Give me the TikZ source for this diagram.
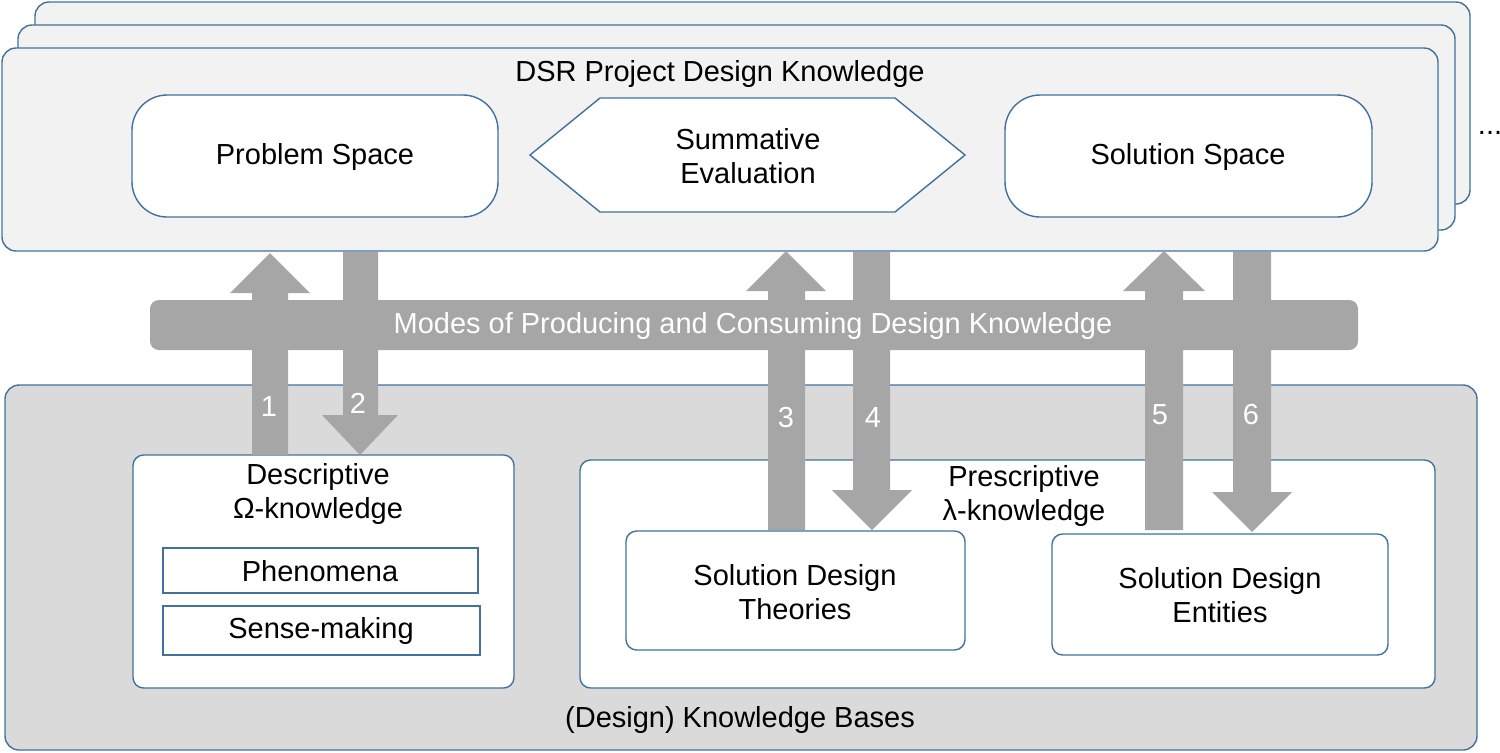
\documentclass[tikz,border=0pt]{standalone}
\usepackage{fontspec}
\setmainfont{Liberation Sans}
\definecolor{bl}{HTML}{41719C}
\definecolor{pane}{HTML}{F2F2F2}
\definecolor{ag}{HTML}{A6A6A6}
\definecolor{kb}{HTML}{DADADA}
\begin{document}
\begin{tikzpicture}[x=0.02cm,y=-0.02cm,
  pane/.style={draw=bl,fill=pane,line width=0.8pt,rounded corners=8pt},
  wbox/.style={draw=bl,fill=white,line width=0.8pt},
  arr/.style={fill=ag,draw=none},
  txt/.style={font=\fontsize{16.5}{19.5}\selectfont,align=center,inner sep=0pt},
  num/.style={font=\fontsize{16.5}{20}\selectfont,text=white,inner sep=0pt}]
\useasboundingbox (0,0) rectangle (1500,752);
% stacked panes
\draw[pane] (35,2) rectangle (1470,204);
\draw[pane] (18,25) rectangle (1455,230);
\draw[pane] (2,48) rectangle (1438,251);
\node[txt] (dsr) at (720,74) {DSR Project Design Knowledge};
\draw[wbox,rounded corners=20pt] (132,95) rectangle (498,217);
\node[txt] (ps) at (315,157) {Problem Space};
\draw[wbox] (530,155) -- (600,98) -- (895,98) -- (965,155) -- (895,212) -- (600,212) -- cycle;
\node[txt] (se) at (748,156) {Summative\\Evaluation};
\draw[wbox,rounded corners=20pt] (1005,95) rectangle (1372,217);
\node[txt] (ss) at (1188,157) {Solution Space};
\node[txt] (dots) at (1490,133) {...};
% knowledge bases
\draw[draw=bl,fill=kb,line width=0.8pt,rounded corners=8pt] (5,385) rectangle (1477,750);
\node[txt] (kbt) at (740,720) {(Design) Knowledge Bases};
% descriptive / prescriptive containers
\draw[wbox,rounded corners=6pt] (133,455) rectangle (514,688);
\draw[wbox,rounded corners=6pt] (580,460) rectangle (1435,688);
% arrows
\fill[arr] (252,455) -- (252,293) -- (230,293) -- (270,253) -- (310,293) -- (288,293) -- (288,455) -- cycle;
\fill[arr] (343,252) -- (343,415) -- (322,415) -- (360,455) -- (398,415) -- (378,415) -- (378,252) -- cycle;
\fill[arr] (768,530) -- (768,291) -- (746,291) -- (786,251) -- (826,291) -- (805,291) -- (805,530) -- cycle;
\fill[arr] (853,252) -- (853,490) -- (832,490) -- (872,530) -- (912,490) -- (890,490) -- (890,252) -- cycle;
\fill[arr] (1145,530) -- (1145,291) -- (1123,291) -- (1164,251) -- (1205,291) -- (1183,291) -- (1183,530) -- cycle;
\fill[arr] (1233,252) -- (1233,492) -- (1212,492) -- (1252,532) -- (1292,492) -- (1271,492) -- (1271,252) -- cycle;
\fill[ag,rounded corners=5pt] (150,300) rectangle (1358,350);
\node[txt,text=white] (modes) at (753,326) {Modes of Producing and Consuming Design Knowledge};
\node[num] (n1) at (269,407) {1};
\node[num] (n2) at (358,403) {2};
\node[num] (n3) at (786,418) {3};
\node[num] (n4) at (873,418) {4};
\node[num] (n5) at (1160,415) {5};
\node[num] (n6) at (1251,415) {6};
% descriptive
\node[txt] (desc) at (318,494) {Descriptive\\Ω-knowledge};
\draw[wbox] (163,548) rectangle (478,593);
\node[txt] (ph) at (320,571) {Phenomena};
\draw[wbox] (163,606) rectangle (480,655);
\node[txt] (sm) at (321,631) {Sense-making};
% prescriptive
\node[txt] (pre) at (1024,496) {Prescriptive\\λ-knowledge};
\draw[wbox,rounded corners=6pt] (626,531) rectangle (965,650);
\node[txt] (sdt) at (795,592) {Solution Design\\Theories};
\draw[wbox,rounded corners=6pt] (1052,534) rectangle (1388,655);
\node[txt] (sde) at (1220,595) {Solution Design\\Entities};
\end{tikzpicture}
\end{document}
